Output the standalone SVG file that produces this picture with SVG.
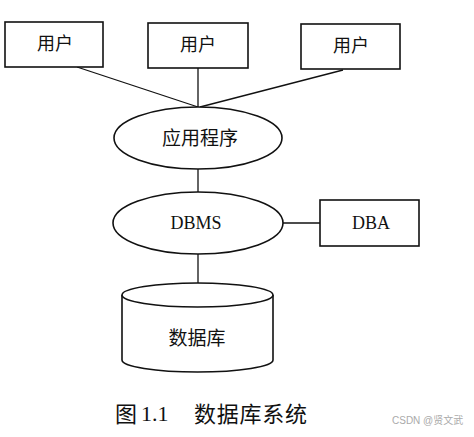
<svg xmlns="http://www.w3.org/2000/svg" width="474" height="437" viewBox="0 0 474 437">
<style>
.s{fill:#fff;stroke:#111;stroke-width:1.6}
.c{stroke:#111;stroke-width:1.3;fill:none}
.cj{font-family:"Noto Sans CJK SC","Noto Sans",sans-serif;fill:#111;text-anchor:middle}
.lt{font-family:"Liberation Serif","DejaVu Serif",serif;fill:#111;text-anchor:middle}
</style>
<rect width="474" height="437" fill="#fff"/>
<g id="connectors">
<line class="c" x1="77" y1="67" x2="198" y2="107"/>
<line class="c" x1="198" y1="68" x2="198" y2="107"/>
<line class="c" x1="343" y1="70" x2="200" y2="107"/>
<line class="c" x1="198" y1="169" x2="198" y2="192"/>
<line class="c" x1="283" y1="223" x2="320" y2="223"/>
<line class="c" x1="198" y1="254" x2="198" y2="283"/>
</g>
<g id="user1"><rect class="s" x="5" y="22" width="98" height="45"/><text class="cj" x="55" y="50" font-size="18">用户</text></g>
<g id="user2"><rect class="s" x="148" y="23" width="100" height="45"/><text class="cj" x="198" y="51" font-size="18">用户</text></g>
<g id="user3"><rect class="s" x="301" y="24" width="99" height="45"/><text class="cj" x="351" y="52" font-size="18">用户</text></g>
<g id="app"><ellipse class="s" cx="198" cy="138" rx="84" ry="31"/><text class="cj" x="200" y="145" font-size="19">应用程序</text></g>
<g id="dbms"><ellipse class="s" cx="198" cy="223" rx="85" ry="31"/><text class="lt" x="196" y="229" font-size="18">DBMS</text></g>
<g id="dba"><rect class="s" x="320" y="200" width="99" height="46"/><text class="lt" x="371" y="229" font-size="18">DBA</text></g>
<g id="db">
<path class="s" d="M122,295 L122,360 A75.5,12 0 0 0 273,360 L273,295"/>
<ellipse class="s" cx="197.5" cy="295" rx="75.5" ry="12"/>
<text class="cj" x="197" y="345" font-size="19">数据库</text>
</g>
<g id="caption">
<text font-family="Noto Sans CJK SC,sans-serif" font-size="22" fill="#111" x="115" y="422">图</text>
<text font-family="Liberation Serif,serif" font-size="22" fill="#111" x="141" y="421">1.1</text>
<text font-family="Noto Sans CJK SC,sans-serif" font-size="22" fill="#111" x="194" y="422" textLength="113">数据库系统</text>
</g>
<text font-family="Liberation Sans,Noto Sans CJK SC,sans-serif" font-size="10" fill="#aaa" x="392" y="424">CSDN @贤文武</text>
</svg>
